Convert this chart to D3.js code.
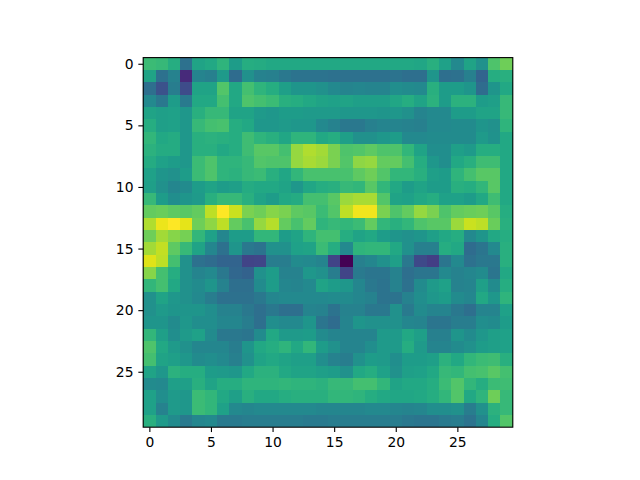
<!DOCTYPE html>
<html><head><meta charset="utf-8">
<script src="https://cdn.jsdelivr.net/npm/d3@7"></script>
<style>html,body{margin:0;padding:0;background:#fff}svg{display:block}</style>
</head><body><svg id="c" width="640" height="480"></svg>
<script>
const xTicks=[0,5,10,15,20,25];
const yTicks=[0,5,10,15,20,25];
const cells=[
[.68,.67,.62,.37,.58,.6,.65,.55,.62,.61,.6,.6,.6,.6,.6,.6,.6,.6,.6,.6,.6,.6,.59,.63,.57,.47,.58,.5,.72,.78],
[.58,.37,.44,.12,.45,.43,.54,.35,.5,.44,.43,.4,.38,.38,.38,.37,.37,.37,.37,.37,.38,.36,.36,.52,.36,.37,.43,.32,.62,.63],
[.36,.25,.42,.23,.58,.58,.73,.6,.7,.65,.62,.56,.52,.52,.5,.47,.45,.46,.45,.45,.49,.48,.47,.63,.55,.55,.52,.35,.52,.6],
[.47,.4,.55,.41,.6,.6,.7,.6,.72,.7,.68,.63,.62,.6,.58,.57,.58,.56,.56,.56,.59,.62,.58,.64,.55,.64,.64,.55,.56,.67],
[.58,.56,.57,.53,.63,.67,.67,.58,.58,.54,.53,.55,.55,.54,.54,.54,.53,.53,.53,.52,.53,.5,.45,.47,.47,.55,.55,.58,.58,.67],
[.62,.56,.57,.53,.67,.7,.71,.62,.6,.53,.53,.54,.53,.53,.47,.44,.4,.4,.43,.45,.45,.44,.43,.47,.47,.48,.48,.52,.5,.65],
[.66,.6,.61,.53,.63,.64,.63,.62,.69,.65,.63,.59,.65,.65,.6,.62,.56,.5,.5,.53,.55,.47,.47,.48,.48,.48,.48,.54,.51,.6],
[.64,.61,.61,.53,.63,.63,.6,.62,.69,.74,.74,.7,.84,.88,.86,.8,.72,.73,.75,.72,.72,.66,.58,.49,.49,.56,.54,.62,.62,.6],
[.61,.57,.55,.53,.68,.72,.65,.65,.67,.73,.72,.72,.84,.87,.85,.8,.73,.83,.84,.76,.76,.7,.62,.53,.49,.6,.63,.69,.69,.6],
[.57,.52,.5,.55,.68,.72,.65,.64,.67,.68,.63,.59,.66,.71,.71,.71,.71,.75,.78,.73,.66,.66,.63,.56,.55,.65,.7,.74,.74,.6],
[.56,.5,.46,.48,.55,.58,.55,.56,.61,.6,.6,.58,.53,.59,.62,.63,.67,.66,.74,.66,.6,.55,.58,.55,.55,.63,.62,.66,.74,.6],
[.67,.55,.49,.52,.54,.63,.67,.67,.63,.58,.55,.6,.61,.7,.7,.74,.85,.87,.87,.73,.58,.57,.6,.62,.57,.57,.55,.6,.69,.6],
[.76,.77,.75,.74,.76,.9,1,.92,.8,.78,.82,.8,.75,.74,.68,.73,.9,.98,.98,.8,.72,.76,.84,.8,.72,.76,.77,.78,.74,.62],
[.88,.97,1,.96,.78,.83,.9,.76,.71,.84,.89,.76,.71,.76,.65,.67,.66,.68,.76,.66,.63,.66,.72,.74,.74,.85,.92,.9,.77,.63],
[.78,.86,.82,.79,.66,.57,.46,.55,.55,.66,.66,.55,.58,.65,.7,.7,.62,.58,.6,.55,.52,.5,.52,.56,.6,.62,.47,.52,.6,.62],
[.86,.91,.75,.67,.58,.46,.37,.52,.4,.38,.5,.5,.57,.58,.68,.62,.47,.65,.66,.66,.6,.5,.43,.43,.62,.6,.35,.39,.47,.63],
[.95,.9,.7,.5,.37,.35,.32,.32,.2,.21,.42,.42,.48,.47,.45,.2,0,.43,.46,.5,.56,.4,.22,.18,.39,.47,.37,.4,.4,.63],
[.82,.7,.62,.5,.45,.47,.4,.33,.31,.5,.55,.44,.44,.53,.5,.42,.2,.41,.39,.39,.44,.36,.39,.39,.47,.44,.46,.48,.39,.6],
[.66,.7,.6,.5,.48,.52,.44,.36,.36,.48,.55,.46,.45,.47,.58,.55,.53,.46,.4,.38,.44,.37,.48,.54,.57,.44,.45,.56,.48,.62],
[.5,.58,.53,.5,.47,.42,.37,.37,.37,.4,.46,.47,.47,.47,.47,.48,.48,.46,.44,.38,.38,.44,.49,.53,.55,.48,.46,.6,.53,.65],
[.5,.54,.52,.52,.52,.49,.44,.44,.4,.36,.4,.36,.36,.45,.44,.38,.44,.44,.4,.4,.5,.41,.48,.45,.45,.4,.36,.45,.45,.57],
[.52,.52,.48,.53,.49,.49,.46,.46,.42,.36,.49,.47,.47,.52,.39,.35,.45,.52,.5,.5,.5,.46,.45,.39,.39,.42,.42,.49,.48,.55],
[.66,.56,.49,.54,.57,.48,.4,.4,.39,.48,.6,.54,.54,.55,.48,.45,.45,.45,.45,.54,.54,.6,.56,.43,.43,.52,.48,.53,.56,.57],
[.72,.6,.54,.5,.46,.46,.46,.42,.52,.6,.62,.65,.6,.66,.55,.5,.45,.45,.49,.54,.54,.62,.54,.45,.45,.48,.5,.55,.56,.57],
[.7,.58,.56,.53,.48,.49,.47,.43,.5,.58,.6,.58,.56,.56,.49,.44,.42,.5,.55,.54,.49,.55,.55,.56,.64,.6,.66,.68,.69,.63],
[.58,.53,.64,.62,.62,.55,.54,.53,.6,.64,.64,.6,.58,.58,.56,.55,.5,.6,.62,.57,.5,.56,.57,.6,.67,.66,.7,.71,.74,.7],
[.48,.47,.56,.56,.63,.58,.62,.62,.65,.65,.65,.66,.65,.65,.64,.67,.67,.7,.7,.66,.58,.6,.6,.62,.68,.73,.66,.62,.68,.69],
[.57,.49,.54,.53,.68,.66,.6,.56,.63,.6,.6,.62,.63,.63,.63,.66,.66,.65,.62,.6,.59,.59,.6,.62,.66,.73,.6,.65,.78,.67],
[.57,.44,.54,.53,.68,.66,.57,.47,.46,.47,.47,.47,.47,.47,.46,.46,.46,.46,.47,.47,.46,.45,.46,.49,.49,.5,.42,.5,.64,.67],
[.63,.54,.48,.41,.46,.47,.41,.41,.42,.42,.42,.42,.42,.41,.41,.42,.42,.42,.42,.42,.42,.4,.39,.39,.41,.42,.38,.46,.62,.73]
];
const L=143.2,R=512.8,T=57.6,B=427.2;
const svg=d3.select('#c');
const x=d3.scaleLinear().domain([-0.5,29.5]).range([L,R]);
const y=d3.scaleLinear().domain([-0.5,29.5]).range([T,B]);
const color=d3.scaleSequential(d3.interpolateViridis).domain([0,1]);
const flat=cells.flatMap((row,j)=>row.map((v,i)=>({i,j,v})));
svg.append('g').selectAll('rect').data(flat).join('rect')
 .attr('x',d=>x(d.i-.5)).attr('y',d=>y(d.j-.5))
 .attr('width',x(1)-x(0)).attr('height',y(1)-y(0))
 .attr('fill',d=>color(d.v)).attr('shape-rendering','crispEdges');
const font='"DejaVu Sans"';
const gx=svg.append('g').attr('transform',`translate(0,${B})`).call(d3.axisBottom(x).tickValues(xTicks).tickFormat(d3.format('d')).tickSize(4.86).tickPadding(4.86));
const gy=svg.append('g').attr('transform',`translate(${L},0)`).call(d3.axisLeft(y).tickValues(yTicks).tickFormat(d3.format('d')).tickSize(4.86).tickPadding(4.86));
[gx,gy].forEach(g=>{g.select('.domain').remove();
 g.selectAll('line').attr('stroke','#000').attr('stroke-width',1.11);
 g.selectAll('text').attr('fill','#000').attr('font-family',font).attr('font-size',13.89);});
svg.append('rect').attr('x',L).attr('y',T).attr('width',R-L).attr('height',B-T)
 .attr('fill','none').attr('stroke','#000').attr('stroke-width',1.11);
</script></body></html>
